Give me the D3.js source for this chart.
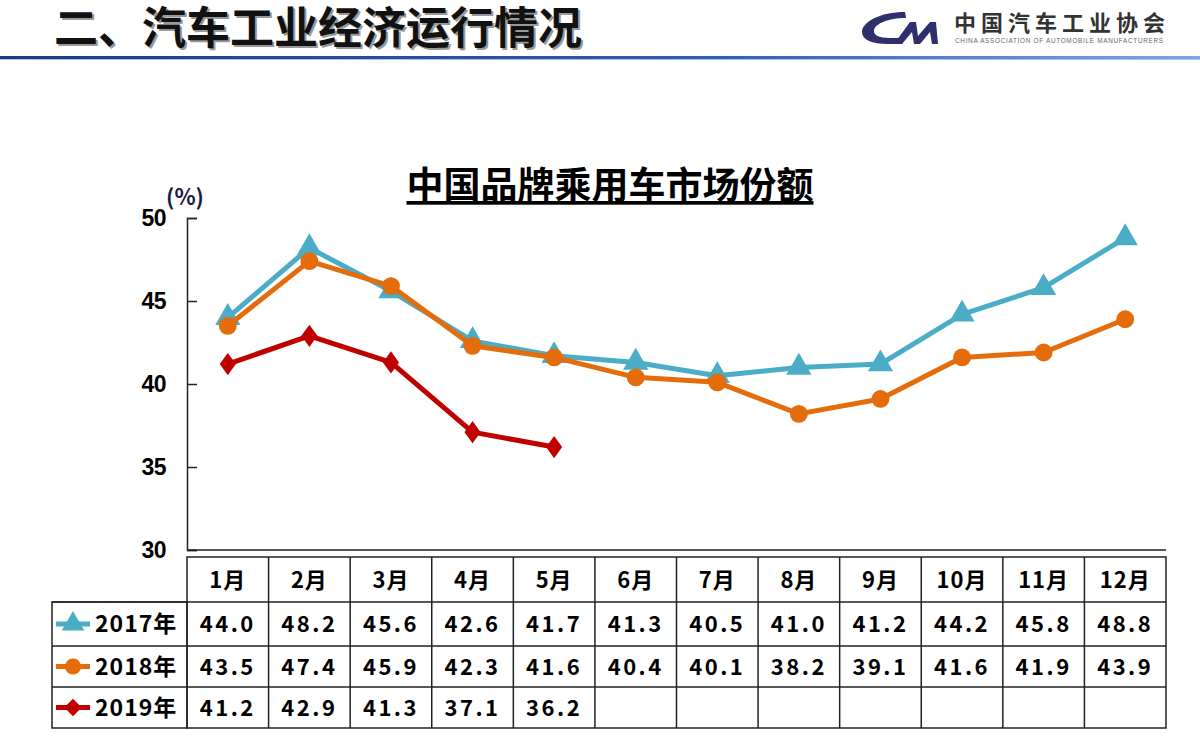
<!DOCTYPE html>
<html>
<head>
<meta charset="utf-8">
<script src="https://cdn.jsdelivr.net/npm/d3@7"></script>
<style>
  body { margin: 0; background: #fff; }
  svg { display: block; font-family: "Noto Sans CJK SC", "Liberation Sans", sans-serif; }
</style>
</head>
<body>
<svg id="chart" width="1200" height="748"></svg>
<script>
var months = ['1月', '2月', '3月', '4月', '5月', '6月', '7月', '8月', '9月', '10月', '11月', '12月'];
var years = ['2017年', '2018年', '2019年'];
var v2017 = [44.0, 48.2, 45.6, 42.6, 41.7, 41.3, 40.5, 41.0, 41.2, 44.2, 45.8, 48.8];
var v2018 = [43.5, 47.4, 45.9, 42.3, 41.6, 40.4, 40.1, 38.2, 39.1, 41.6, 41.9, 43.9];
var v2019 = [41.2, 42.9, 41.3, 37.1, 36.2];
var yTicks = [30, 35, 40, 45, 50];

var series = [
  { name: years[0], values: v2017, color: '#4bacc6', marker: 'triangle' },
  { name: years[1], values: v2018, color: '#e46c0a', marker: 'circle' },
  { name: years[2], values: v2019, color: '#c00000', marker: 'diamond' }
];

var svg = d3.select('#chart');

// header
var defs = svg.append('defs');
var grad = defs.append('linearGradient').attr('id', 'rule');
grad.append('stop').attr('offset', '0%').attr('stop-color', '#1f3a7a');
grad.append('stop').attr('offset', '60%').attr('stop-color', '#2f5fb0');
grad.append('stop').attr('offset', '100%').attr('stop-color', '#7aa9e0');
svg.append('rect').attr('x', 0).attr('y', 56).attr('width', 1200).attr('height', 3).attr('fill', 'url(#rule)');
svg.append('rect').attr('x', 0).attr('y', 59).attr('width', 1200).attr('height', 1).attr('fill', '#a9c4e8');

svg.append('text').attr('x', 56).attr('y', 46)
  .attr('font-size', 44).attr('font-weight', 'bold').attr('fill', '#999')
  .text('二、汽车工业经济运行情况');
svg.append('text').attr('x', 54).attr('y', 44)
  .attr('font-size', 44).attr('font-weight', 'bold').attr('fill', '#111')
  .text('二、汽车工业经济运行情况');

// logo
var logo = svg.append('g').attr('fill', '#2e2f6b');
logo.append('path').attr('d', 'M905,12 C880,12 862,22 862,32 C862,40 872,44 888,44 L902,44 L904,38 L890,38 C878,38 874,35 874,31 C874,24 888,18 906,18 Z');
logo.append('path').attr('d', 'M894,44 L910,22 L916,22 L918,36 L930,22 L936,22 L938,44 L932,44 L930,32 L920,44 L914,44 L912,32 L902,44 Z');
logo.append('text').attr('x', 954).attr('y', 31).attr('font-size', 22).attr('font-weight', 'bold')
  .attr('letter-spacing', 5).attr('fill', '#333').text('中国汽车工业协会');
logo.append('text').attr('x', 955).attr('y', 43).attr('font-size', 6.4).attr('fill', '#666')
  .attr('font-family', 'Liberation Sans').attr('letter-spacing', 0.7)
  .text('CHINA ASSOCIATION OF AUTOMOBILE MANUFACTURERS');

// chart title
svg.append('text').attr('x', 610).attr('y', 199).attr('text-anchor', 'middle')
  .attr('font-size', 37).attr('font-weight', 'bold').attr('fill', '#000')
  .attr('text-decoration', 'underline')
  .text('中国品牌乘用车市场份额');

var plotLeft = 187, plotRight = 1166, plotTop = 218, plotBottom = 550;

var x = d3.scaleBand().domain(months).range([plotLeft, plotRight]);
var y = d3.scaleLinear().domain([30, 50]).range([plotBottom, plotTop]);

var yAxis = svg.append('g').attr('transform', 'translate(' + plotLeft + ',0)')
  .call(d3.axisLeft(y).tickValues(yTicks).tickSize(-10).tickPadding(21));
yAxis.select('.domain').attr('stroke', '#222').attr('stroke-width', 1.5);
yAxis.selectAll('.tick line').attr('stroke', '#222').attr('stroke-width', 1.5);
yAxis.selectAll('.tick text').attr('font-size', 23).attr('font-weight', 'bold')
  .attr('font-family', 'Liberation Sans').attr('fill', '#000').attr('letter-spacing', -0.5);

svg.append('line').attr('x1', plotLeft).attr('x2', plotRight).attr('y1', plotBottom).attr('y2', plotBottom)
  .attr('stroke', '#222').attr('stroke-width', 1.5);

svg.append('text').attr('x', 185).attr('y', 205).attr('text-anchor', 'middle')
  .attr('font-size', 22).attr('font-weight', 'bold').attr('fill', '#1a1a40')
  .text('(%)');

function markerPath(type, size) {
  if (type === 'triangle') return d3.symbol().type(d3.symbolTriangle).size(size * 1.1)();
  if (type === 'circle') return d3.symbol().type(d3.symbolCircle).size(size)();
  return d3.symbol().type(d3.symbolDiamond).size(size * 0.9)();
}

var line = d3.line()
  .x(function(d, i) { return x(months[i]) + x.bandwidth() / 2; })
  .y(function(d) { return y(d); });

series.forEach(function(s) {
  var g = svg.append('g');
  g.append('path').attr('d', line(s.values)).attr('fill', 'none')
    .attr('stroke', s.color).attr('stroke-width', 5).attr('stroke-linejoin', 'round');
  g.selectAll('path.m').data(s.values).enter().append('path').attr('class', 'm')
    .attr('d', markerPath(s.marker, 250))
    .attr('transform', function(d, i) {
      return 'translate(' + (x(months[i]) + x.bandwidth() / 2) + ',' + y(d) + ')' + (s.marker === 'diamond' ? ' scale(1,0.8)' : '');
    })
    .attr('fill', s.color);
});

// data table
var rowY = [557, 602, 646, 687, 728];
var tableLeft = 52;
var tbl = svg.append('g').attr('stroke', '#222').attr('stroke-width', 1.5).attr('fill', 'none');
tbl.append('rect').attr('x', plotLeft).attr('y', rowY[0]).attr('width', plotRight - plotLeft).attr('height', rowY[4] - rowY[0]);
tbl.append('rect').attr('x', tableLeft).attr('y', rowY[1]).attr('width', plotLeft - tableLeft).attr('height', rowY[4] - rowY[1]);
[rowY[1], rowY[2], rowY[3]].forEach(function(yy) {
  tbl.append('line').attr('x1', tableLeft).attr('x2', plotRight).attr('y1', yy).attr('y2', yy);
});
months.forEach(function(m, i) {
  if (i > 0) tbl.append('line').attr('x1', x(m)).attr('x2', x(m)).attr('y1', rowY[0]).attr('y2', rowY[4]);
});

svg.selectAll('text.month').data(months).enter().append('text').attr('class', 'month')
  .attr('x', function(d) { return x(d) + x.bandwidth() / 2; })
  .attr('y', (rowY[0] + rowY[1]) / 2 + 8)
  .attr('text-anchor', 'middle').attr('font-size', 22).attr('font-weight', 'bold')
  .attr('letter-spacing', 1)
  .text(function(d) { return d; });

series.forEach(function(s, r) {
  var cy = (rowY[r + 1] + rowY[r + 2]) / 2;
  svg.selectAll('text.v' + r).data(s.values).enter().append('text').attr('class', 'v' + r)
    .attr('x', function(d, i) { return x(months[i]) + x.bandwidth() / 2; })
    .attr('y', cy + 8)
    .attr('text-anchor', 'middle').attr('font-size', 22).attr('font-weight', 'bold')
    .attr('letter-spacing', 2.5)
    .text(function(d) { return d.toFixed(1); });
  svg.append('line').attr('x1', 56).attr('x2', 90).attr('y1', cy).attr('y2', cy)
    .attr('stroke', s.color).attr('stroke-width', 5);
  svg.append('path').attr('d', markerPath(s.marker, 200))
    .attr('transform', 'translate(73,' + cy + ')' + (s.marker === 'diamond' ? ' scale(1.2,0.7)' : ''))
    .attr('fill', s.color);
  svg.append('text').attr('x', 95).attr('y', cy + 8).attr('font-size', 23).attr('font-weight', 'bold')
    .attr('letter-spacing', 1)
    .text(s.name);
});
</script>
</body>
</html>
